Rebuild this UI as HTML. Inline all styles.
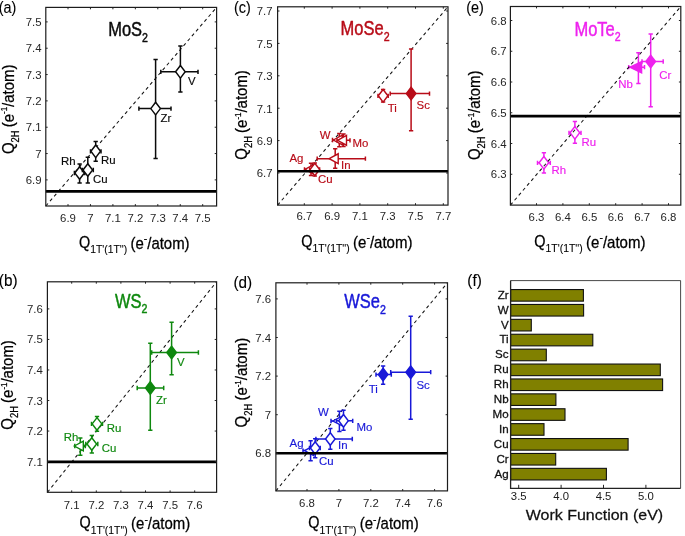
<!DOCTYPE html>
<html><head><meta charset="utf-8"><title>Figure</title>
<style>html,body{margin:0;padding:0;background:#fff}svg{display:block}</style></head>
<body>
<svg width="685" height="536" viewBox="0 0 685 536" font-family='"Liberation Sans", sans-serif'>
<rect width="685" height="536" fill="#fff"/>
<path d="M45.80 206.00L216.60 7.40" stroke="#111" stroke-width="1.05" stroke-dasharray="3.3 3.1" fill="none"/>
<path d="M180.40 46.00V92.00M178.25 46.00h4.3M178.25 92.00h4.3M160.80 71.80H198.00M160.80 69.65v4.3M198.00 69.65v4.3" fill="none" stroke="#0a0a0a" stroke-width="1.5"/>
<path d="M175.60 71.80L180.40 65.50L185.20 71.80L180.40 78.10Z" fill="#fff" stroke="#0a0a0a" stroke-width="1.45" stroke-linejoin="miter"/>
<path d="M155.60 59.50V158.50M153.45 59.50h4.3M153.45 158.50h4.3M138.90 108.60H171.00M138.90 106.45v4.3M171.00 106.45v4.3" fill="none" stroke="#0a0a0a" stroke-width="1.5"/>
<path d="M150.80 108.60L155.60 102.30L160.40 108.60L155.60 114.90Z" fill="#fff" stroke="#0a0a0a" stroke-width="1.45" stroke-linejoin="miter"/>
<path d="M95.70 141.50V161.30M93.55 141.50h4.3M93.55 161.30h4.3M90.50 151.30H101.00M90.50 149.15v4.3M101.00 149.15v4.3" fill="none" stroke="#0a0a0a" stroke-width="1.5"/>
<path d="M90.90 151.30L95.70 145.00L100.50 151.30L95.70 157.60Z" fill="#fff" stroke="#0a0a0a" stroke-width="1.45" stroke-linejoin="miter"/>
<path d="M79.60 164.00V183.00M77.45 164.00h4.3M77.45 183.00h4.3M74.40 173.00H84.80M74.40 170.85v4.3M84.80 170.85v4.3" fill="none" stroke="#0a0a0a" stroke-width="1.5"/>
<path d="M74.80 173.00L79.60 166.70L84.40 173.00L79.60 179.30Z" fill="#fff" stroke="#0a0a0a" stroke-width="1.45" stroke-linejoin="miter"/>
<path d="M87.80 157.30V183.00M85.65 157.30h4.3M85.65 183.00h4.3M82.40 170.00H93.30M82.40 167.85v4.3M93.30 167.85v4.3" fill="none" stroke="#0a0a0a" stroke-width="1.5"/>
<path d="M83.00 170.00L87.80 163.70L92.60 170.00L87.80 176.30Z" fill="#fff" stroke="#0a0a0a" stroke-width="1.45" stroke-linejoin="miter"/>
<path d="M45.80 191.40H216.60" stroke="#000" stroke-width="2.6" fill="none"/>
<text transform="translate(68.00,221.60)" font-size="11.4" fill="#262626" text-anchor="middle">6.9</text>
<text transform="translate(90.45,221.60)" font-size="11.4" fill="#262626" text-anchor="middle">7</text>
<text transform="translate(112.90,221.60)" font-size="11.4" fill="#262626" text-anchor="middle">7.1</text>
<text transform="translate(135.35,221.60)" font-size="11.4" fill="#262626" text-anchor="middle">7.2</text>
<text transform="translate(157.80,221.60)" font-size="11.4" fill="#262626" text-anchor="middle">7.3</text>
<text transform="translate(180.25,221.60)" font-size="11.4" fill="#262626" text-anchor="middle">7.4</text>
<text transform="translate(202.70,221.60)" font-size="11.4" fill="#262626" text-anchor="middle">7.5</text>
<text transform="translate(41.60,25.95)" font-size="11.4" fill="#262626" text-anchor="end">7.5</text>
<text transform="translate(41.60,52.28)" font-size="11.4" fill="#262626" text-anchor="end">7.4</text>
<text transform="translate(41.60,78.61)" font-size="11.4" fill="#262626" text-anchor="end">7.3</text>
<text transform="translate(41.60,104.94)" font-size="11.4" fill="#262626" text-anchor="end">7.2</text>
<text transform="translate(41.60,131.27)" font-size="11.4" fill="#262626" text-anchor="end">7.1</text>
<text transform="translate(41.60,157.60)" font-size="11.4" fill="#262626" text-anchor="end">7</text>
<text transform="translate(41.60,183.93)" font-size="11.4" fill="#262626" text-anchor="end">6.9</text>
<path d="M68.00 206.00v-1.9M68.00 7.40v1.9M90.45 206.00v-1.9M90.45 7.40v1.9M112.90 206.00v-1.9M112.90 7.40v1.9M135.35 206.00v-1.9M135.35 7.40v1.9M157.80 206.00v-1.9M157.80 7.40v1.9M180.25 206.00v-1.9M180.25 7.40v1.9M202.70 206.00v-1.9M202.70 7.40v1.9M45.80 21.90h1.9M216.60 21.90h-1.9M45.80 48.23h1.9M216.60 48.23h-1.9M45.80 74.56h1.9M216.60 74.56h-1.9M45.80 100.89h1.9M216.60 100.89h-1.9M45.80 127.22h1.9M216.60 127.22h-1.9M45.80 153.55h1.9M216.60 153.55h-1.9M45.80 179.88h1.9M216.60 179.88h-1.9" stroke="#262626" stroke-width="1" fill="none"/>
<rect x="45.80" y="7.40" width="170.80" height="198.60" fill="none" stroke="#1c1c1c" stroke-width="1.2"/>
<text transform="translate(188.10,85.20) scale(1.06,1)" font-size="10.8" fill="#0a0a0a" stroke="#0a0a0a" stroke-width="0.15" stroke-linejoin="round" text-anchor="start">V</text>
<text transform="translate(160.40,121.50) scale(1.06,1)" font-size="10.8" fill="#0a0a0a" stroke="#0a0a0a" stroke-width="0.15" stroke-linejoin="round" text-anchor="start">Zr</text>
<text transform="translate(100.90,164.30) scale(1.06,1)" font-size="10.8" fill="#0a0a0a" stroke="#0a0a0a" stroke-width="0.15" stroke-linejoin="round" text-anchor="start">Ru</text>
<text transform="translate(60.90,165.40) scale(1.06,1)" font-size="10.8" fill="#0a0a0a" stroke="#0a0a0a" stroke-width="0.15" stroke-linejoin="round" text-anchor="start">Rh</text>
<text transform="translate(93.00,182.70) scale(1.06,1)" font-size="10.8" fill="#0a0a0a" stroke="#0a0a0a" stroke-width="0.15" stroke-linejoin="round" text-anchor="start">Cu</text>
<text transform="translate(108.20,36.10) scale(0.85,1)" font-size="19.4" fill="#0a0a0a" stroke="#0a0a0a" stroke-width="0.45" stroke-linejoin="round" text-anchor="start">MoS<tspan font-size="12.5" dy="5.5">2</tspan></text>
<text transform="translate(79.00,247.70) scale(0.9,1)" font-size="16" fill="#000" stroke="#000" stroke-width="0.28" stroke-linejoin="round" text-anchor="start">Q<tspan font-size="11.5" dy="5.5" stroke-width="0.1">1T'(1T'')</tspan><tspan dy="-4.7" dx="-0.9" font-size="16.6"> (e</tspan><tspan font-size="11.5" dy="-6.3">-</tspan><tspan dy="6.3" font-size="16.6">/atom)</tspan></text>
<text transform="translate(13.50,154.10) rotate(-90) scale(0.935,1)" font-size="16" fill="#000" stroke="#000" stroke-width="0.25" stroke-linejoin="round" text-anchor="start">Q<tspan font-size="10" dy="5">2H</tspan><tspan dy="-5" dx="-1"> (e</tspan><tspan font-size="8.5" dy="-6.5">-1</tspan><tspan dy="6.5">/atom)</tspan></text>
<text transform="translate(-1.20,12.50) scale(0.9,1)" font-size="16" fill="#000" stroke="#000" stroke-width="0.12" stroke-linejoin="round" text-anchor="start">(a)</text>
<path d="M47.40 492.30L216.60 281.80" stroke="#111" stroke-width="1.05" stroke-dasharray="3.3 3.1" fill="none"/>
<path d="M171.60 322.30V374.80M169.45 322.30h4.3M169.45 374.80h4.3M151.70 352.50H198.40M151.70 350.35v4.3M198.40 350.35v4.3" fill="none" stroke="#0e880e" stroke-width="1.5"/>
<path d="M166.80 352.50L171.60 346.20L176.40 352.50L171.60 358.80Z" fill="#0e880e" stroke="#0e880e" stroke-width="1.45" stroke-linejoin="miter"/>
<path d="M150.30 343.20V430.30M148.15 343.20h4.3M148.15 430.30h4.3M137.20 388.00H163.70M137.20 385.85v4.3M163.70 385.85v4.3" fill="none" stroke="#0e880e" stroke-width="1.5"/>
<path d="M145.50 388.00L150.30 381.70L155.10 388.00L150.30 394.30Z" fill="#0e880e" stroke="#0e880e" stroke-width="1.45" stroke-linejoin="miter"/>
<path d="M97.00 416.40V431.30M94.85 416.40h4.3M94.85 431.30h4.3M91.50 423.90H102.50M91.50 421.75v4.3M102.50 421.75v4.3" fill="none" stroke="#0e880e" stroke-width="1.5"/>
<path d="M92.20 423.90L97.00 417.60L101.80 423.90L97.00 430.20Z" fill="#fff" stroke="#0e880e" stroke-width="1.45" stroke-linejoin="miter"/>
<path d="M80.30 438.00V455.20M78.15 438.00h4.3M78.15 455.20h4.3M74.80 446.00H85.30M74.80 443.85v4.3M85.30 443.85v4.3" fill="none" stroke="#0e880e" stroke-width="1.5"/>
<path d="M74.30 446.00L83.30 441.10L83.30 450.90Z" fill="#fff" stroke="#0e880e" stroke-width="1.4" stroke-linejoin="miter"/>
<path d="M91.80 435.50V453.00M89.65 435.50h4.3M89.65 453.00h4.3M85.80 444.00H97.80M85.80 441.85v4.3M97.80 441.85v4.3" fill="none" stroke="#0e880e" stroke-width="1.5"/>
<path d="M87.00 444.00L91.80 437.70L96.60 444.00L91.80 450.30Z" fill="#fff" stroke="#0e880e" stroke-width="1.45" stroke-linejoin="miter"/>
<path d="M47.40 461.90H216.60" stroke="#000" stroke-width="2.6" fill="none"/>
<text transform="translate(71.70,508.70)" font-size="11.4" fill="#262626" text-anchor="middle">7.1</text>
<text transform="translate(96.30,508.70)" font-size="11.4" fill="#262626" text-anchor="middle">7.2</text>
<text transform="translate(120.90,508.70)" font-size="11.4" fill="#262626" text-anchor="middle">7.3</text>
<text transform="translate(145.50,508.70)" font-size="11.4" fill="#262626" text-anchor="middle">7.4</text>
<text transform="translate(170.10,508.70)" font-size="11.4" fill="#262626" text-anchor="middle">7.5</text>
<text transform="translate(194.70,508.70)" font-size="11.4" fill="#262626" text-anchor="middle">7.6</text>
<text transform="translate(42.80,312.95)" font-size="11.4" fill="#262626" text-anchor="end">7.6</text>
<text transform="translate(42.80,343.49)" font-size="11.4" fill="#262626" text-anchor="end">7.5</text>
<text transform="translate(42.80,374.03)" font-size="11.4" fill="#262626" text-anchor="end">7.4</text>
<text transform="translate(42.80,404.57)" font-size="11.4" fill="#262626" text-anchor="end">7.3</text>
<text transform="translate(42.80,435.11)" font-size="11.4" fill="#262626" text-anchor="end">7.2</text>
<text transform="translate(42.80,465.65)" font-size="11.4" fill="#262626" text-anchor="end">7.1</text>
<path d="M71.70 492.30v-1.9M71.70 281.80v1.9M96.30 492.30v-1.9M96.30 281.80v1.9M120.90 492.30v-1.9M120.90 281.80v1.9M145.50 492.30v-1.9M145.50 281.80v1.9M170.10 492.30v-1.9M170.10 281.80v1.9M194.70 492.30v-1.9M194.70 281.80v1.9M47.40 308.90h1.9M216.60 308.90h-1.9M47.40 339.44h1.9M216.60 339.44h-1.9M47.40 369.98h1.9M216.60 369.98h-1.9M47.40 400.52h1.9M216.60 400.52h-1.9M47.40 431.06h1.9M216.60 431.06h-1.9M47.40 461.60h1.9M216.60 461.60h-1.9" stroke="#262626" stroke-width="1" fill="none"/>
<rect x="47.40" y="281.80" width="169.20" height="210.50" fill="none" stroke="#1c1c1c" stroke-width="1.2"/>
<text transform="translate(176.90,366.40) scale(1.06,1)" font-size="10.8" fill="#0e880e" stroke="#0e880e" stroke-width="0.15" stroke-linejoin="round" text-anchor="start">V</text>
<text transform="translate(155.90,404.20) scale(1.06,1)" font-size="10.8" fill="#0e880e" stroke="#0e880e" stroke-width="0.15" stroke-linejoin="round" text-anchor="start">Zr</text>
<text transform="translate(106.70,432.40) scale(1.06,1)" font-size="10.8" fill="#0e880e" stroke="#0e880e" stroke-width="0.15" stroke-linejoin="round" text-anchor="start">Ru</text>
<text transform="translate(101.80,451.80) scale(1.06,1)" font-size="10.8" fill="#0e880e" stroke="#0e880e" stroke-width="0.15" stroke-linejoin="round" text-anchor="start">Cu</text>
<text transform="translate(63.70,440.60) scale(1.06,1)" font-size="10.8" fill="#0e880e" stroke="#0e880e" stroke-width="0.15" stroke-linejoin="round" text-anchor="start">Rh</text>
<text transform="translate(115.00,307.70) scale(0.85,1)" font-size="19.4" fill="#0e880e" stroke="#0e880e" stroke-width="0.45" stroke-linejoin="round" text-anchor="start">WS<tspan font-size="12.5" dy="5.5">2</tspan></text>
<text transform="translate(79.60,528.40) scale(0.9,1)" font-size="16" fill="#000" stroke="#000" stroke-width="0.28" stroke-linejoin="round" text-anchor="start">Q<tspan font-size="11.5" dy="5.5" stroke-width="0.1">1T'(1T'')</tspan><tspan dy="-4.7" dx="-0.9" font-size="16.6"> (e</tspan><tspan font-size="11.5" dy="-6.3">-</tspan><tspan dy="6.3" font-size="16.6">/atom)</tspan></text>
<text transform="translate(13.30,429.70) rotate(-90) scale(0.935,1)" font-size="16" fill="#000" stroke="#000" stroke-width="0.25" stroke-linejoin="round" text-anchor="start">Q<tspan font-size="10" dy="5">2H</tspan><tspan dy="-5" dx="-1"> (e</tspan><tspan font-size="8.5" dy="-6.5">-1</tspan><tspan dy="6.5">/atom)</tspan></text>
<text transform="translate(-1.20,286.00) scale(0.9,1)" font-size="17" fill="#000" stroke="#000" stroke-width="0.12" stroke-linejoin="round" text-anchor="start">(b)</text>
<path d="M277.60 205.10L448.00 6.80" stroke="#111" stroke-width="1.05" stroke-dasharray="3.3 3.1" fill="none"/>
<path d="M411.10 48.90V130.70M408.95 48.90h4.3M408.95 130.70h4.3M390.20 93.60H429.50M390.20 91.45v4.3M429.50 91.45v4.3" fill="none" stroke="#b80c18" stroke-width="1.5"/>
<path d="M406.30 93.60L411.10 87.30L415.90 93.60L411.10 99.90Z" fill="#b80c18" stroke="#b80c18" stroke-width="1.45" stroke-linejoin="miter"/>
<path d="M383.10 89.60V102.00M380.95 89.60h4.3M380.95 102.00h4.3M378.00 95.80H388.20M378.00 93.65v4.3M388.20 93.65v4.3" fill="none" stroke="#b80c18" stroke-width="1.5"/>
<path d="M378.30 95.80L383.10 89.50L387.90 95.80L383.10 102.10Z" fill="#fff" stroke="#b80c18" stroke-width="1.45" stroke-linejoin="miter"/>
<path d="M339.30 133.50V146.70M337.15 133.50h4.3M337.15 146.70h4.3M332.50 140.00H343.00M332.50 137.85v4.3M343.00 137.85v4.3" fill="none" stroke="#b80c18" stroke-width="1.5"/>
<path d="M333.30 140.00L342.30 135.10L342.30 144.90Z" fill="#fff" stroke="#b80c18" stroke-width="1.4" stroke-linejoin="miter"/>
<path d="M343.50 134.00V146.50M341.35 134.00h4.3M341.35 146.50h4.3M337.00 140.30H350.00M337.00 138.15v4.3M350.00 138.15v4.3" fill="none" stroke="#b80c18" stroke-width="1.5"/>
<path d="M337.50 140.30L346.50 135.40L346.50 145.20Z" fill="#fff" stroke="#b80c18" stroke-width="1.4" stroke-linejoin="miter"/>
<path d="M335.20 148.80V168.20M333.05 148.80h4.3M333.05 168.20h4.3M317.20 158.70H365.40M317.20 156.55v4.3M365.40 156.55v4.3" fill="none" stroke="#b80c18" stroke-width="1.5"/>
<path d="M329.20 158.70L338.20 153.80L338.20 163.60Z" fill="#fff" stroke="#b80c18" stroke-width="1.4" stroke-linejoin="miter"/>
<path d="M311.00 163.20V175.50M308.85 163.20h4.3M308.85 175.50h4.3M304.50 169.30H315.00M304.50 167.15v4.3M315.00 167.15v4.3" fill="none" stroke="#b80c18" stroke-width="1.5"/>
<path d="M305.00 169.30L314.00 164.40L314.00 174.20Z" fill="#fff" stroke="#b80c18" stroke-width="1.4" stroke-linejoin="miter"/>
<path d="M314.80 163.00V176.00M312.65 163.00h4.3M312.65 176.00h4.3M309.60 169.50H319.60M309.60 167.35v4.3M319.60 167.35v4.3" fill="none" stroke="#b80c18" stroke-width="1.5"/>
<path d="M310.00 169.50L314.80 163.20L319.60 169.50L314.80 175.80Z" fill="#fff" stroke="#b80c18" stroke-width="1.45" stroke-linejoin="miter"/>
<path d="M277.60 171.20H448.00" stroke="#000" stroke-width="2.6" fill="none"/>
<text transform="translate(304.30,219.90)" font-size="11.4" fill="#262626" text-anchor="middle">6.7</text>
<text transform="translate(332.10,219.90)" font-size="11.4" fill="#262626" text-anchor="middle">6.9</text>
<text transform="translate(359.90,219.90)" font-size="11.4" fill="#262626" text-anchor="middle">7.1</text>
<text transform="translate(387.70,219.90)" font-size="11.4" fill="#262626" text-anchor="middle">7.3</text>
<text transform="translate(415.50,219.90)" font-size="11.4" fill="#262626" text-anchor="middle">7.5</text>
<text transform="translate(443.30,219.90)" font-size="11.4" fill="#262626" text-anchor="middle">7.7</text>
<text transform="translate(272.50,15.45)" font-size="11.4" fill="#262626" text-anchor="end">7.7</text>
<text transform="translate(272.50,47.85)" font-size="11.4" fill="#262626" text-anchor="end">7.5</text>
<text transform="translate(272.50,80.25)" font-size="11.4" fill="#262626" text-anchor="end">7.3</text>
<text transform="translate(272.50,112.65)" font-size="11.4" fill="#262626" text-anchor="end">7.1</text>
<text transform="translate(272.50,145.05)" font-size="11.4" fill="#262626" text-anchor="end">6.9</text>
<text transform="translate(272.50,177.45)" font-size="11.4" fill="#262626" text-anchor="end">6.7</text>
<path d="M304.30 205.10v-1.9M304.30 6.80v1.9M332.10 205.10v-1.9M332.10 6.80v1.9M359.90 205.10v-1.9M359.90 6.80v1.9M387.70 205.10v-1.9M387.70 6.80v1.9M415.50 205.10v-1.9M415.50 6.80v1.9M443.30 205.10v-1.9M443.30 6.80v1.9M277.60 11.00h1.9M448.00 11.00h-1.9M277.60 43.40h1.9M448.00 43.40h-1.9M277.60 75.80h1.9M448.00 75.80h-1.9M277.60 108.20h1.9M448.00 108.20h-1.9M277.60 140.60h1.9M448.00 140.60h-1.9M277.60 173.00h1.9M448.00 173.00h-1.9" stroke="#262626" stroke-width="1" fill="none"/>
<rect x="277.60" y="6.80" width="170.40" height="198.30" fill="none" stroke="#1c1c1c" stroke-width="1.2"/>
<text transform="translate(387.80,111.90) scale(1.06,1)" font-size="10.8" fill="#b80c18" stroke="#b80c18" stroke-width="0.15" stroke-linejoin="round" text-anchor="start">Ti</text>
<text transform="translate(416.60,109.30) scale(1.06,1)" font-size="10.8" fill="#b80c18" stroke="#b80c18" stroke-width="0.15" stroke-linejoin="round" text-anchor="start">Sc</text>
<text transform="translate(319.70,138.70) scale(1.06,1)" font-size="10.8" fill="#b80c18" stroke="#b80c18" stroke-width="0.15" stroke-linejoin="round" text-anchor="start">W</text>
<text transform="translate(352.60,147.00) scale(1.06,1)" font-size="10.8" fill="#b80c18" stroke="#b80c18" stroke-width="0.15" stroke-linejoin="round" text-anchor="start">Mo</text>
<text transform="translate(341.00,168.50) scale(1.06,1)" font-size="10.8" fill="#b80c18" stroke="#b80c18" stroke-width="0.15" stroke-linejoin="round" text-anchor="start">In</text>
<text transform="translate(289.50,162.20) scale(1.06,1)" font-size="10.8" fill="#b80c18" stroke="#b80c18" stroke-width="0.15" stroke-linejoin="round" text-anchor="start">Ag</text>
<text transform="translate(318.10,182.50) scale(1.06,1)" font-size="10.8" fill="#b80c18" stroke="#b80c18" stroke-width="0.15" stroke-linejoin="round" text-anchor="start">Cu</text>
<text transform="translate(340.60,35.30) scale(0.85,1)" font-size="19.4" fill="#b80c18" stroke="#b80c18" stroke-width="0.45" stroke-linejoin="round" text-anchor="start">MoSe<tspan font-size="12.5" dy="5.5">2</tspan></text>
<text transform="translate(301.30,246.80) scale(0.905,1)" font-size="16" fill="#000" stroke="#000" stroke-width="0.28" stroke-linejoin="round" text-anchor="start">Q<tspan font-size="11.5" dy="5.5" stroke-width="0.1">1T'(1T'')</tspan><tspan dy="-4.7" dx="-0.9" font-size="16.6"> (e</tspan><tspan font-size="11.5" dy="-6.3">-</tspan><tspan dy="6.3" font-size="16.6">/atom)</tspan></text>
<text transform="translate(247.20,159.70) rotate(-90) scale(0.935,1)" font-size="16" fill="#000" stroke="#000" stroke-width="0.25" stroke-linejoin="round" text-anchor="start">Q<tspan font-size="10" dy="5">2H</tspan><tspan dy="-5" dx="-1"> (e</tspan><tspan font-size="8.5" dy="-6.5">-1</tspan><tspan dy="6.5">/atom)</tspan></text>
<text transform="translate(234.00,13.30) scale(0.9,1)" font-size="16" fill="#000" stroke="#000" stroke-width="0.12" stroke-linejoin="round" text-anchor="start">(c)</text>
<path d="M275.90 490.90L447.50 282.80" stroke="#111" stroke-width="1.05" stroke-dasharray="3.3 3.1" fill="none"/>
<path d="M410.70 316.30V419.30M408.55 316.30h4.3M408.55 419.30h4.3M390.70 372.20H430.70M390.70 370.05v4.3M430.70 370.05v4.3" fill="none" stroke="#1818d8" stroke-width="1.5"/>
<path d="M405.90 372.20L410.70 365.90L415.50 372.20L410.70 378.50Z" fill="#1818d8" stroke="#1818d8" stroke-width="1.45" stroke-linejoin="miter"/>
<path d="M383.10 365.90V384.20M380.95 365.90h4.3M380.95 384.20h4.3M376.00 374.60H391.30M376.00 372.45v4.3M391.30 372.45v4.3" fill="none" stroke="#1818d8" stroke-width="1.5"/>
<path d="M378.30 374.60L383.10 368.30L387.90 374.60L383.10 380.90Z" fill="#1818d8" stroke="#1818d8" stroke-width="1.45" stroke-linejoin="miter"/>
<path d="M339.40 411.20V431.50M337.25 411.20h4.3M337.25 431.50h4.3M331.00 421.00H343.00M331.00 418.85v4.3M343.00 418.85v4.3" fill="none" stroke="#1818d8" stroke-width="1.5"/>
<path d="M332.80 421.00L342.40 416.10L342.40 425.90Z" fill="#fff" stroke="#1818d8" stroke-width="1.4" stroke-linejoin="miter"/>
<path d="M343.50 410.20V430.20M341.35 410.20h4.3M341.35 430.20h4.3M336.50 420.80H352.70M336.50 418.65v4.3M352.70 418.65v4.3" fill="none" stroke="#1818d8" stroke-width="1.5"/>
<path d="M338.70 420.80L343.50 414.50L348.30 420.80L343.50 427.10Z" fill="#fff" stroke="#1818d8" stroke-width="1.45" stroke-linejoin="miter"/>
<path d="M330.30 428.60V449.30M328.15 428.60h4.3M328.15 449.30h4.3M315.90 439.00H352.30M315.90 436.85v4.3M352.30 436.85v4.3" fill="none" stroke="#1818d8" stroke-width="1.5"/>
<path d="M325.50 439.00L330.30 432.70L335.10 439.00L330.30 445.30Z" fill="#fff" stroke="#1818d8" stroke-width="1.45" stroke-linejoin="miter"/>
<path d="M310.60 440.70V460.70M308.45 440.70h4.3M308.45 460.70h4.3M303.00 450.60H315.00M303.00 448.45v4.3M315.00 448.45v4.3" fill="none" stroke="#1818d8" stroke-width="1.5"/>
<path d="M304.60 450.60L313.60 445.70L313.60 455.50Z" fill="#fff" stroke="#1818d8" stroke-width="1.4" stroke-linejoin="miter"/>
<path d="M315.20 438.80V457.80M313.05 438.80h4.3M313.05 457.80h4.3M309.50 448.00H320.20M309.50 445.85v4.3M320.20 445.85v4.3" fill="none" stroke="#1818d8" stroke-width="1.5"/>
<path d="M310.40 448.00L315.20 441.70L320.00 448.00L315.20 454.30Z" fill="#fff" stroke="#1818d8" stroke-width="1.45" stroke-linejoin="miter"/>
<path d="M275.90 453.20H447.50" stroke="#000" stroke-width="2.6" fill="none"/>
<text transform="translate(307.00,507.40)" font-size="11.4" fill="#262626" text-anchor="middle">6.8</text>
<text transform="translate(338.90,507.40)" font-size="11.4" fill="#262626" text-anchor="middle">7</text>
<text transform="translate(370.80,507.40)" font-size="11.4" fill="#262626" text-anchor="middle">7.2</text>
<text transform="translate(402.70,507.40)" font-size="11.4" fill="#262626" text-anchor="middle">7.4</text>
<text transform="translate(434.60,507.40)" font-size="11.4" fill="#262626" text-anchor="middle">7.6</text>
<text transform="translate(271.00,302.95)" font-size="11.4" fill="#262626" text-anchor="end">7.6</text>
<text transform="translate(271.00,341.55)" font-size="11.4" fill="#262626" text-anchor="end">7.4</text>
<text transform="translate(271.00,380.15)" font-size="11.4" fill="#262626" text-anchor="end">7.2</text>
<text transform="translate(271.00,418.75)" font-size="11.4" fill="#262626" text-anchor="end">7</text>
<text transform="translate(271.00,457.35)" font-size="11.4" fill="#262626" text-anchor="end">6.8</text>
<path d="M307.00 490.90v-1.9M307.00 282.80v1.9M338.90 490.90v-1.9M338.90 282.80v1.9M370.80 490.90v-1.9M370.80 282.80v1.9M402.70 490.90v-1.9M402.70 282.80v1.9M434.60 490.90v-1.9M434.60 282.80v1.9M275.90 298.90h1.9M447.50 298.90h-1.9M275.90 337.50h1.9M447.50 337.50h-1.9M275.90 376.10h1.9M447.50 376.10h-1.9M275.90 414.70h1.9M447.50 414.70h-1.9M275.90 453.30h1.9M447.50 453.30h-1.9" stroke="#262626" stroke-width="1" fill="none"/>
<rect x="275.90" y="282.80" width="171.60" height="208.10" fill="none" stroke="#1c1c1c" stroke-width="1.2"/>
<text transform="translate(317.90,415.80) scale(1.06,1)" font-size="10.8" fill="#1818d8" stroke="#1818d8" stroke-width="0.15" stroke-linejoin="round" text-anchor="start">W</text>
<text transform="translate(356.60,430.90) scale(1.06,1)" font-size="10.8" fill="#1818d8" stroke="#1818d8" stroke-width="0.15" stroke-linejoin="round" text-anchor="start">Mo</text>
<text transform="translate(338.00,449.30) scale(1.06,1)" font-size="10.8" fill="#1818d8" stroke="#1818d8" stroke-width="0.15" stroke-linejoin="round" text-anchor="start">In</text>
<text transform="translate(289.60,446.60) scale(1.06,1)" font-size="10.8" fill="#1818d8" stroke="#1818d8" stroke-width="0.15" stroke-linejoin="round" text-anchor="start">Ag</text>
<text transform="translate(318.90,465.30) scale(1.06,1)" font-size="10.8" fill="#1818d8" stroke="#1818d8" stroke-width="0.15" stroke-linejoin="round" text-anchor="start">Cu</text>
<text transform="translate(368.80,392.70) scale(1.06,1)" font-size="10.8" fill="#1818d8" stroke="#1818d8" stroke-width="0.15" stroke-linejoin="round" text-anchor="start">Ti</text>
<text transform="translate(416.50,388.60) scale(1.06,1)" font-size="10.8" fill="#1818d8" stroke="#1818d8" stroke-width="0.15" stroke-linejoin="round" text-anchor="start">Sc</text>
<text transform="translate(344.30,308.20) scale(0.85,1)" font-size="19.4" fill="#1818d8" stroke="#1818d8" stroke-width="0.45" stroke-linejoin="round" text-anchor="start">WSe<tspan font-size="12.5" dy="5.5">2</tspan></text>
<text transform="translate(308.20,528.40) scale(0.9,1)" font-size="16" fill="#000" stroke="#000" stroke-width="0.28" stroke-linejoin="round" text-anchor="start">Q<tspan font-size="11.5" dy="5.5" stroke-width="0.1">1T'(1T'')</tspan><tspan dy="-4.7" dx="-0.9" font-size="16.6"> (e</tspan><tspan font-size="11.5" dy="-6.3">-</tspan><tspan dy="6.3" font-size="16.6">/atom)</tspan></text>
<text transform="translate(247.30,427.40) rotate(-90) scale(0.935,1)" font-size="16" fill="#000" stroke="#000" stroke-width="0.25" stroke-linejoin="round" text-anchor="start">Q<tspan font-size="10" dy="5">2H</tspan><tspan dy="-5" dx="-1"> (e</tspan><tspan font-size="8.5" dy="-6.5">-1</tspan><tspan dy="6.5">/atom)</tspan></text>
<text transform="translate(233.40,288.30) scale(0.9,1)" font-size="17" fill="#000" stroke="#000" stroke-width="0.12" stroke-linejoin="round" text-anchor="start">(d)</text>
<path d="M638.40 52.80V83.40M636.25 52.80h4.3M636.25 83.40h4.3M628.70 67.20H644.50M628.70 65.05v4.3M644.50 65.05v4.3" fill="none" stroke="#ee22ee" stroke-width="1.5"/>
<path d="M630.00 67.20L641.60 61.50L641.60 72.90Z" fill="#ee22ee" stroke="#ee22ee" stroke-width="1.4" stroke-linejoin="miter"/>
<path d="M650.70 34.00V106.70M648.55 34.00h4.3M648.55 106.70h4.3M642.00 61.50H663.20M642.00 59.35v4.3M663.20 59.35v4.3" fill="none" stroke="#ee22ee" stroke-width="1.5"/>
<path d="M645.90 61.50L650.70 55.20L655.50 61.50L650.70 67.80Z" fill="#ee22ee" stroke="#ee22ee" stroke-width="1.45" stroke-linejoin="miter"/>
<path d="M574.90 121.40V143.20M572.75 121.40h4.3M572.75 143.20h4.3M569.00 132.80H581.00M569.00 130.65v4.3M581.00 130.65v4.3" fill="none" stroke="#ee22ee" stroke-width="1.5"/>
<path d="M570.10 132.80L574.90 126.50L579.70 132.80L574.90 139.10Z" fill="#fff" stroke="#ee22ee" stroke-width="1.45" stroke-linejoin="miter"/>
<path d="M543.90 152.80V173.00M541.75 152.80h4.3M541.75 173.00h4.3M537.50 162.80H550.30M537.50 160.65v4.3M550.30 160.65v4.3" fill="none" stroke="#ee22ee" stroke-width="1.5"/>
<path d="M539.10 162.80L543.90 156.50L548.70 162.80L543.90 169.10Z" fill="#fff" stroke="#ee22ee" stroke-width="1.45" stroke-linejoin="miter"/>
<path d="M510.40 205.10L680.80 6.50" stroke="#111" stroke-width="1.05" stroke-dasharray="3.3 3.1" fill="none"/>
<path d="M510.40 116.10H680.80" stroke="#000" stroke-width="2.6" fill="none"/>
<text transform="translate(536.50,220.70)" font-size="11.4" fill="#262626" text-anchor="middle">6.3</text>
<text transform="translate(562.90,220.70)" font-size="11.4" fill="#262626" text-anchor="middle">6.4</text>
<text transform="translate(589.30,220.70)" font-size="11.4" fill="#262626" text-anchor="middle">6.5</text>
<text transform="translate(615.70,220.70)" font-size="11.4" fill="#262626" text-anchor="middle">6.6</text>
<text transform="translate(642.10,220.70)" font-size="11.4" fill="#262626" text-anchor="middle">6.7</text>
<text transform="translate(668.50,220.70)" font-size="11.4" fill="#262626" text-anchor="middle">6.8</text>
<text transform="translate(506.70,24.55)" font-size="11.4" fill="#262626" text-anchor="end">6.8</text>
<text transform="translate(506.70,55.30)" font-size="11.4" fill="#262626" text-anchor="end">6.7</text>
<text transform="translate(506.70,86.05)" font-size="11.4" fill="#262626" text-anchor="end">6.6</text>
<text transform="translate(506.70,116.80)" font-size="11.4" fill="#262626" text-anchor="end">6.5</text>
<text transform="translate(506.70,147.55)" font-size="11.4" fill="#262626" text-anchor="end">6.4</text>
<text transform="translate(506.70,178.30)" font-size="11.4" fill="#262626" text-anchor="end">6.3</text>
<path d="M536.50 205.10v-1.9M536.50 6.50v1.9M562.90 205.10v-1.9M562.90 6.50v1.9M589.30 205.10v-1.9M589.30 6.50v1.9M615.70 205.10v-1.9M615.70 6.50v1.9M642.10 205.10v-1.9M642.10 6.50v1.9M668.50 205.10v-1.9M668.50 6.50v1.9M510.40 20.50h1.9M680.80 20.50h-1.9M510.40 51.25h1.9M680.80 51.25h-1.9M510.40 82.00h1.9M680.80 82.00h-1.9M510.40 112.75h1.9M680.80 112.75h-1.9M510.40 143.50h1.9M680.80 143.50h-1.9M510.40 174.25h1.9M680.80 174.25h-1.9" stroke="#262626" stroke-width="1" fill="none"/>
<rect x="510.40" y="6.50" width="170.40" height="198.60" fill="none" stroke="#1c1c1c" stroke-width="1.2"/>
<text transform="translate(659.30,79.00) scale(1.06,1)" font-size="10.8" fill="#ee22ee" stroke="#ee22ee" stroke-width="0.15" stroke-linejoin="round" text-anchor="start">Cr</text>
<text transform="translate(618.20,88.00) scale(1.06,1)" font-size="10.8" fill="#ee22ee" stroke="#ee22ee" stroke-width="0.15" stroke-linejoin="round" text-anchor="start">Nb</text>
<text transform="translate(581.50,145.60) scale(1.06,1)" font-size="10.8" fill="#ee22ee" stroke="#ee22ee" stroke-width="0.15" stroke-linejoin="round" text-anchor="start">Ru</text>
<text transform="translate(551.50,173.90) scale(1.06,1)" font-size="10.8" fill="#ee22ee" stroke="#ee22ee" stroke-width="0.15" stroke-linejoin="round" text-anchor="start">Rh</text>
<text transform="translate(574.40,35.80) scale(0.85,1)" font-size="19.4" fill="#ee22ee" stroke="#ee22ee" stroke-width="0.45" stroke-linejoin="round" text-anchor="start">MoTe<tspan font-size="12.5" dy="5.5">2</tspan></text>
<text transform="translate(534.30,246.80) scale(0.905,1)" font-size="16" fill="#000" stroke="#000" stroke-width="0.28" stroke-linejoin="round" text-anchor="start">Q<tspan font-size="11.5" dy="5.5" stroke-width="0.1">1T'(1T'')</tspan><tspan dy="-4.7" dx="-0.9" font-size="16.6"> (e</tspan><tspan font-size="11.5" dy="-6.3">-</tspan><tspan dy="6.3" font-size="16.6">/atom)</tspan></text>
<text transform="translate(480.10,160.10) rotate(-90) scale(0.935,1)" font-size="16" fill="#000" stroke="#000" stroke-width="0.25" stroke-linejoin="round" text-anchor="start">Q<tspan font-size="10" dy="5">2H</tspan><tspan dy="-5" dx="-1"> (e</tspan><tspan font-size="8.5" dy="-6.5">-1</tspan><tspan dy="6.5">/atom)</tspan></text>
<text transform="translate(466.20,12.50) scale(0.9,1)" font-size="16" fill="#000" stroke="#000" stroke-width="0.12" stroke-linejoin="round" text-anchor="start">(e)</text>
<rect x="510.60" y="289.55" width="72.80" height="11.6" fill="#808000" stroke="#111" stroke-width="1.1"/>
<text transform="translate(508.60,298.75) scale(0.98,1)" font-size="11.8" fill="#111" stroke="#111" stroke-width="0.3" stroke-linejoin="round" text-anchor="end">Zr</text>
<rect x="510.60" y="304.45" width="73.00" height="11.6" fill="#808000" stroke="#111" stroke-width="1.1"/>
<text transform="translate(508.60,313.65) scale(0.98,1)" font-size="11.8" fill="#111" stroke="#111" stroke-width="0.3" stroke-linejoin="round" text-anchor="end">W</text>
<rect x="510.60" y="319.35" width="20.70" height="11.6" fill="#808000" stroke="#111" stroke-width="1.1"/>
<text transform="translate(508.60,328.55) scale(0.98,1)" font-size="11.8" fill="#111" stroke="#111" stroke-width="0.3" stroke-linejoin="round" text-anchor="end">V</text>
<rect x="510.60" y="334.25" width="82.20" height="11.6" fill="#808000" stroke="#111" stroke-width="1.1"/>
<text transform="translate(508.60,343.45) scale(0.98,1)" font-size="11.8" fill="#111" stroke="#111" stroke-width="0.3" stroke-linejoin="round" text-anchor="end">Ti</text>
<rect x="510.60" y="349.15" width="35.70" height="11.6" fill="#808000" stroke="#111" stroke-width="1.1"/>
<text transform="translate(508.60,358.35) scale(0.98,1)" font-size="11.8" fill="#111" stroke="#111" stroke-width="0.3" stroke-linejoin="round" text-anchor="end">Sc</text>
<rect x="510.60" y="364.05" width="149.70" height="11.6" fill="#808000" stroke="#111" stroke-width="1.1"/>
<text transform="translate(508.60,373.25) scale(0.98,1)" font-size="11.8" fill="#111" stroke="#111" stroke-width="0.3" stroke-linejoin="round" text-anchor="end">Ru</text>
<rect x="510.60" y="378.95" width="152.00" height="11.6" fill="#808000" stroke="#111" stroke-width="1.1"/>
<text transform="translate(508.60,388.15) scale(0.98,1)" font-size="11.8" fill="#111" stroke="#111" stroke-width="0.3" stroke-linejoin="round" text-anchor="end">Rh</text>
<rect x="510.60" y="393.85" width="45.30" height="11.6" fill="#808000" stroke="#111" stroke-width="1.1"/>
<text transform="translate(508.60,403.05) scale(0.98,1)" font-size="11.8" fill="#111" stroke="#111" stroke-width="0.3" stroke-linejoin="round" text-anchor="end">Nb</text>
<rect x="510.60" y="408.75" width="54.40" height="11.6" fill="#808000" stroke="#111" stroke-width="1.1"/>
<text transform="translate(508.60,417.95) scale(0.98,1)" font-size="11.8" fill="#111" stroke="#111" stroke-width="0.3" stroke-linejoin="round" text-anchor="end">Mo</text>
<rect x="510.60" y="423.65" width="33.40" height="11.6" fill="#808000" stroke="#111" stroke-width="1.1"/>
<text transform="translate(508.60,432.85) scale(0.98,1)" font-size="11.8" fill="#111" stroke="#111" stroke-width="0.3" stroke-linejoin="round" text-anchor="end">In</text>
<rect x="510.60" y="438.55" width="117.50" height="11.6" fill="#808000" stroke="#111" stroke-width="1.1"/>
<text transform="translate(508.60,447.75) scale(0.98,1)" font-size="11.8" fill="#111" stroke="#111" stroke-width="0.3" stroke-linejoin="round" text-anchor="end">Cu</text>
<rect x="510.60" y="453.45" width="45.10" height="11.6" fill="#808000" stroke="#111" stroke-width="1.1"/>
<text transform="translate(508.60,462.65) scale(0.98,1)" font-size="11.8" fill="#111" stroke="#111" stroke-width="0.3" stroke-linejoin="round" text-anchor="end">Cr</text>
<rect x="510.60" y="468.35" width="95.80" height="11.6" fill="#808000" stroke="#111" stroke-width="1.1"/>
<text transform="translate(508.60,477.55) scale(0.98,1)" font-size="11.8" fill="#111" stroke="#111" stroke-width="0.3" stroke-linejoin="round" text-anchor="end">Ag</text>
<text transform="translate(518.70,500.20) scale(1.03,1)" font-size="11" fill="#1a1a1a" text-anchor="middle">3.5</text>
<text transform="translate(561.10,500.20) scale(1.03,1)" font-size="11" fill="#1a1a1a" text-anchor="middle">4.0</text>
<text transform="translate(603.50,500.20) scale(1.03,1)" font-size="11" fill="#1a1a1a" text-anchor="middle">4.5</text>
<text transform="translate(645.90,500.20) scale(1.03,1)" font-size="11" fill="#1a1a1a" text-anchor="middle">5.0</text>
<path d="M518.70 488.40v-3.6M561.10 488.40v-3.6M603.50 488.40v-3.6M645.90 488.40v-3.6" stroke="#262626" stroke-width="1" fill="none"/>
<path d="M510.6 280.6H680.6V488.4" fill="none" stroke="#333" stroke-width="0.9"/>
<path d="M510.6 280.6V488.4H680.6" fill="none" stroke="#222" stroke-width="1.3"/>
<text transform="translate(525.80,520.30) scale(1.095,1)" font-size="14.6" fill="#111" stroke="#111" stroke-width="0.25" stroke-linejoin="round" text-anchor="start">Work Function (eV)</text>
<text transform="translate(467.30,285.80) scale(0.9,1)" font-size="17" fill="#000" stroke="#000" stroke-width="0.12" stroke-linejoin="round" text-anchor="start">(f)</text>
</svg>
</body></html>
